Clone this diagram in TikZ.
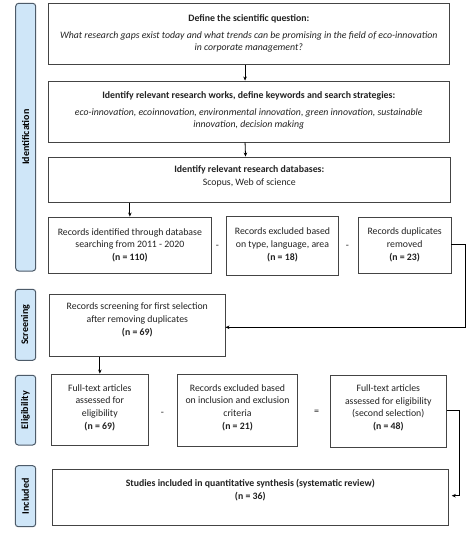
\documentclass[tikz,border=0pt]{standalone}
\usepackage{fontspec}
\setmainfont{Carlito}
\usetikzlibrary{arrows.meta,calc,fit}
\definecolor{txtc}{HTML}{222222}
\definecolor{boxc}{HTML}{444444}
\definecolor{sidefill}{HTML}{CFE6F8}
\definecolor{sidedraw}{HTML}{4D5B69}
\begin{document}
\begin{tikzpicture}[x=1pt,y=-1pt,
  box/.style={draw=boxc, line width=0.9pt, inner sep=0pt, rectangle},
  side/.style={draw=sidedraw, fill=sidefill, line width=1pt, rounded corners=3pt, inner sep=0pt},
  sidetxt/.style={rotate=90, text=black, font=\fontsize{10}{11}\selectfont\bfseries},
  txt/.style={text=txtc, align=center, inner sep=0pt, font=\fontsize{9.8}{12.7}\selectfont},
  op/.style={text=txtc, inner sep=0pt, font=\fontsize{10}{11}\selectfont},
  arr/.style={draw=black, line width=0.8pt, -{Stealth[length=4pt,width=3.5pt]}}
]
\useasboundingbox (0,0) rectangle (474,540);
\fill[white] (0,0) rectangle (474,540);

% side labels
\node (sid) [side, fit={(15.7,3.3) (35.7,271)}] {};
\node (sidt) [sidetxt] at (sid.center) {Identification};
\node (ssc) [side, fit={(15.3,289.3) (35.7,360.3)}] {};
\node (ssct) [sidetxt] at (ssc.center) {Screening};
\node (sel) [side, fit={(15.3,375.3) (35.7,445)}] {};
\node (selt) [sidetxt] at (sel.center) {Eligibility};
\node (sin) [side, fit={(15.3,465.7) (35.7,526.7)}] {};
\node (sint) [sidetxt] at (sin.center) {Included};

% boxes
\node (b1) [box, fit={(48.7,3.3) (449,64.3)}] {};
\node (b1t) [txt] at (248.8,33.5) {\textbf{Define the scientific question:}\\[4pt]
  \itshape What research gaps exist today and what trends can be promising in the field of eco-innovation\\
  \itshape in corporate management?};
\node (b2) [box, fit={(48.7,81) (449,142)}] {};
\node (b2t) [txt] at (248.8,110.5) {\textbf{Identify relevant research works, define keywords and search strategies:}\\[4pt]
  \itshape eco-innovation, ecoinnovation, environmental innovation, green innovation, sustainable\\
  \itshape innovation, decision making};
\node (b3) [box, fit={(48.7,157) (450,202.7)}] {};
\node (b3t) [txt] at (249.3,176.5) {\textbf{Identify relevant research databases:}\\Scopus, Web of science};

\node (ra) [box, fit={(48.7,217) (211,273.3)}] {};
\node (rat) [txt] at (ra.center) {Records identified through database\\searching from 2011 - 2020\\\textbf{(n = 110)}};
\node (rb) [box, fit={(226.7,216.7) (338.3,275)}] {};
\node (rbt) [txt] at ($(rb.center)+(0,-1)$) {Records excluded based\\on type, language, area\\\textbf{(n = 18)}};
\node (rc) [box, fit={(358.3,217) (451,273)}] {};
\node (rct) [txt] at (rc.center) {Records duplicates\\removed\\\textbf{(n = 23)}};
\node (op1) [op] at (217.5,246.5) {-};
\node (op2) [op] at (347.5,246.5) {-};

\node (sc) [box, fit={(49.7,294) (225,356.7)}] {};
\node (sct) [txt] at (137.3,320) {Records screening for first selection\\after removing duplicates\\\textbf{(n = 69)}};

\node (ea) [box, fit={(51,374) (148.7,445)}] {};
\node (eat) [txt] at (99.8,407.5) {Full-text articles\\assessed for\\eligibility\\\textbf{(n = 69)}};
\node (eb) [box, fit={(177.3,374.3) (297.7,446)}] {};
\node (ebt) [txt] at (237.5,407.5) {Records excluded based\\on inclusion and exclusion\\criteria\\\textbf{(n = 21)}};
\node (ec) [box, fit={(330,375.7) (446.7,447)}] {};
\node (ect) [txt] at (388.3,407.8) {Full-text articles\\assessed for eligibility\\(second selection)\\\textbf{(n = 48)}};
\node (op3) [op] at (162.5,414) {-};
\node (op4) [op] at (316.5,412.5) {=};

\node (in) [box, fit={(52.3,469.3) (448.3,525)}] {};
\node (int) [txt] at (250.3,490) {\textbf{Studies included in quantitative synthesis (systematic review)}\\\textbf{(n = 36)}};

% connectors
\draw[arr] ([xshift=-3.8pt]b1.south) -- ([xshift=-3.8pt]b2.north);
\draw[arr] ([xshift=-3.8pt]b2.south) -- ([xshift=-3.8pt]b3.north);
\draw[arr] (b3.south -| ra.north) -- (ra.north);
\coordinate (c1) at (465.7,244);
\coordinate (c2) at (465.7,327.3);
\draw[arr] (rc.east |- c1) -- (c1) -- (c2) -- (sc.east |- c2);
\draw[arr] (sc.south -| ea.north) -- (ea.north);
\coordinate (c3) at (459,410);
\coordinate (c4) at (459,495.7);
\draw[arr] (ec.east |- c3) -- (c3) -- (c4) -- ([xshift=3pt]in.east |- c4);
\end{tikzpicture}
\end{document}
